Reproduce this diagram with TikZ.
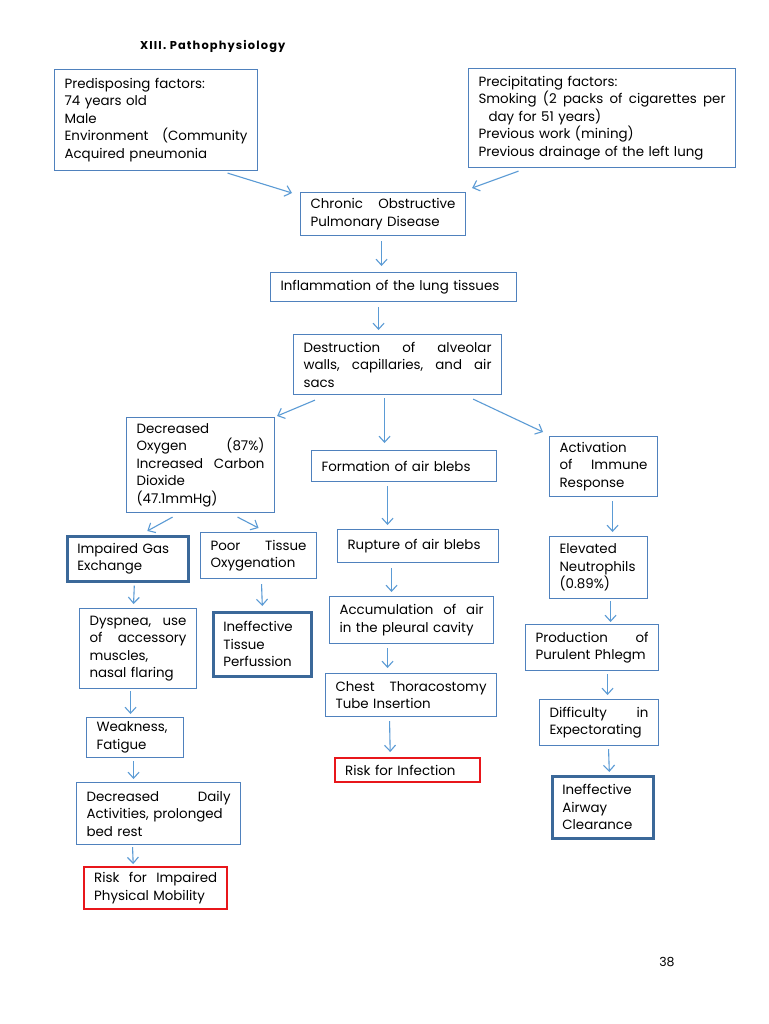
\documentclass[tikz,border=0pt]{standalone}
\usepackage{fontspec}
\setmainfont{Poppins}
\newfontfamily\titlefont[LetterSpace=10]{Poppins}
\usetikzlibrary{arrows.meta}
\definecolor{boxblue}{HTML}{4F81BD}
\definecolor{thickblue}{HTML}{3B6899}
\definecolor{arrowblue}{HTML}{5B9BD5}
\definecolor{riskred}{HTML}{E8161B}
\newcommand\boxfont{\fontsize{13.4}{17.5}\selectfont}
\newcommand\flowbox[7]{%
  \pgfmathsetmacro\bw{#5-#3}\pgfmathsetmacro\bh{#6-#4}\pgfmathsetmacro\tw{#5-#3-20}%
  \node[#2, minimum width=\bw pt, minimum height=\bh pt, text width=\tw pt, anchor=north west] (#1) at (#3,#4) {#7};}
\begin{document}
\begin{tikzpicture}[x=1pt,y=-1pt,
  fbox/.style={draw=boxblue, line width=1.1pt, inner xsep=10pt, inner ysep=2pt, align=left, font=\boxfont, text=black},
  thickbox/.style={fbox, draw=thickblue, line width=2.6pt},
  riskbox/.style={fbox, draw=riskred, line width=2.4pt},
  arr/.style={draw=arrowblue, line width=1.1pt, -{Straight Barb[length=6pt,width=11pt]}}]
\useasboundingbox[fill=white] (0,0) rectangle (768,1024);
\node[font=\titlefont\bfseries\fontsize{11.4}{13}\selectfont, anchor=west, inner sep=0pt] (title) at (140,47) {XIII. Pathophysiology};
\node[font=\fontsize{12.5}{14}\selectfont] (page) at (667,962) {38};

\flowbox{pre}{fbox}{54}{69}{257}{170}{Predisposing factors:\\ 74 years old\\ Male\\ Environment \hfill (Community\\ Acquired pneumonia}
\flowbox{prec}{fbox}{468}{68}{735}{167}{Precipitating factors:\\ Smoking \hfill (2 \hfill packs \hfill of \hfill cigarettes \hfill per\\ \hspace*{10pt}day for 51 years)\\ Previous work (mining)\\ Previous drainage of the left lung}
\flowbox{copd}{fbox}{300}{192}{465}{235}{Chronic \hfill Obstructive\\ Pulmonary Disease}
\flowbox{infl}{fbox}{270}{272}{516}{301}{Inflammation of the lung tissues}
\flowbox{destr}{fbox}{293}{334}{501}{394}{Destruction \hfill of \hfill alveolar\\ walls, \hfill capillaries, \hfill and \hfill air\\ sacs}
\flowbox{deco}{fbox}{126}{417}{274}{512}{Decreased\\ Oxygen \hfill (87\%)\\ Increased \hfill Carbon\\ Dioxide\\ (47.1mmHg)}
\flowbox{form}{fbox}{311}{450}{496}{481}{Formation of air blebs}
\flowbox{rupt}{fbox}{337}{529}{498}{562}{Rupture of air blebs}
\flowbox{imp}{thickbox}{66}{535}{187}{580}{Impaired Gas\\ Exchange}
\flowbox{poor}{fbox}{200}{532}{316}{578}{Poor \hfill Tissue\\ Oxygenation}
\flowbox{dysp}{fbox}{79}{608}{196}{688}{Dyspnea, \hfill use\\ of \hfill accessory\\ muscles,\\ nasal flaring}
\flowbox{ineff}{thickbox}{212}{611}{310}{675}{Ineffective\\ Tissue\\ Perfussion}
\flowbox{weak}{fbox}{86}{717}{183}{757}{Weakness,\\ Fatigue}
\flowbox{dda}{fbox}{76}{782}{240}{844}{Decreased \hfill Daily\\ \mbox{Activities, prolonged}\\ bed rest}
\flowbox{riskmob}{riskbox}{83}{866}{226}{908}{Risk \hfill for \hfill Impaired\\ Physical Mobility}
\flowbox{accum}{fbox}{329}{596}{493}{643}{Accumulation \hfill of \hfill air\\ \mbox{in the pleural cavity}}
\flowbox{chest}{fbox}{325}{673}{496}{716}{Chest \hfill Thoracostomy\\ Tube Insertion}
\flowbox{infect}{riskbox}{334}{757}{479}{781}{Risk for Infection}
\flowbox{activ}{fbox}{549}{436}{657}{496}{Activation\\ of \hfill Immune\\ Response}
\flowbox{elev}{fbox}{549}{536}{647}{598}{Elevated\\ Neutrophils\\ (0.89\%)}
\flowbox{prod}{fbox}{525}{624}{658}{670}{Production \hfill of\\ Purulent Phlegm}
\flowbox{diff}{fbox}{539}{699}{658}{745}{Difficulty \hfill in\\ Expectorating}
\flowbox{airway}{thickbox}{551}{775}{652}{837}{Ineffective\\ Airway\\ Clearance}

\draw[arr] ([shift={(71.5,2)}]pre.south) -- ([shift={(-8,1)}]copd.north west);
\draw[arr] ([shift={(-83.5,3)}]prec.south) -- ([shift={(6,-4)}]copd.north east);
\draw[arr] ([shift={(-1.5,5)}]copd.south) -- ([shift={(-12,-6)}]infl.north);
\draw[arr] ([shift={(-15,5)}]infl.south) -- ([shift={(-19,-4)}]destr.north);
\draw[arr] ([shift={(22,5)}]destr.south west) -- ([shift={(2,-1)}]deco.north east);
\draw[arr] ([shift={(-13,3)}]destr.south) -- ([shift={(-19.5,-7)}]form.north);
\draw[arr] ([shift={(-29,4)}]destr.south east) -- ([shift={(-6,-4)}]activ.north west);
\draw[arr] ([shift={(-28,4)}]deco.south) -- ([shift={(19.5,-4)}]imp.north);
\draw[arr] ([shift={(37,4)}]deco.south) -- ([shift={(0,-4)}]poor.north);
\draw[arr] ([shift={(-16.5,4)}]form.south) -- ([shift={(-30.5,-4)}]rupt.north);
\draw[arr] ([shift={(-26.5,5)}]rupt.south) -- ([shift={(-20,-4)}]accum.north);
\draw[arr] ([shift={(-24,4)}]accum.south) -- ([shift={(-23.5,-5)}]chest.north);
\draw[arr] ([shift={(-21.5,4)}]chest.south) -- ([shift={(-17.5,-5)}]infect.north);
\draw[arr] ([shift={(6.5,3)}]imp.south) -- ([shift={(-4.5,-4)}]dysp.north);
\draw[arr] ([shift={(3,5)}]poor.south) -- ([shift={(0,-5)}]ineff.north);
\draw[arr] ([shift={(-7.5,2)}]dysp.south) -- ([shift={(-4.5,-3)}]weak.north);
\draw[arr] ([shift={(-1.5,3)}]weak.south) -- ([shift={(-25,-3)}]dda.north);
\draw[arr] ([shift={(-26,2)}]dda.south) -- ([shift={(-22.5,-2)}]riskmob.north);
\draw[arr] ([shift={(9,4)}]activ.south) -- ([shift={(14,-4)}]elev.north);
\draw[arr] ([shift={(12,2)}]elev.south) -- ([shift={(18.5,-2)}]prod.north);
\draw[arr] ([shift={(15.5,3)}]prod.south) -- ([shift={(8.5,-4)}]diff.north);
\draw[arr] ([shift={(9.5,3)}]diff.south) -- ([shift={(6.5,-3)}]airway.north);
\end{tikzpicture}
\end{document}
